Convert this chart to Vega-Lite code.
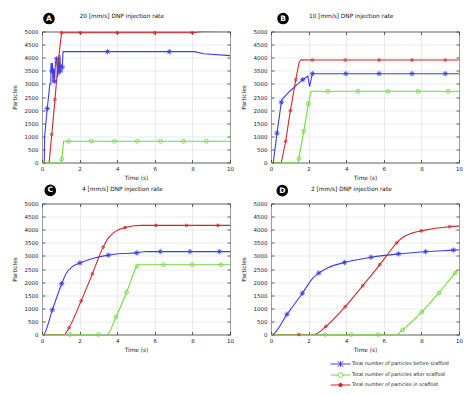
{
 "$schema": "https://vega.github.io/schema/vega-lite/v6.json",
 "padding": {"left": 11, "top": 11.5, "right": 5, "bottom": 5},
 "bounds": "flush",
 "spacing": 41,
 "columns": 2,
 "datasets": {"d": [
  {"p":"A","s":"b","t":0,"v":0,"m":0},{"p":"A","s":"b","t":0.12,"v":0,"m":0},{"p":"A","s":"b","t":0.14,"v":1000,"m":0},{"p":"A","s":"b","t":0.28,"v":2060,"m":1},{"p":"A","s":"b","t":0.42,"v":3000,"m":0},{"p":"A","s":"b","t":0.47,"v":3000,"m":0},{"p":"A","s":"b","t":0.48,"v":3800,"m":0},{"p":"A","s":"b","t":0.52,"v":3490,"m":1},{"p":"A","s":"b","t":0.55,"v":3800,"m":0},{"p":"A","s":"b","t":0.58,"v":3050,"m":0},{"p":"A","s":"b","t":0.62,"v":3600,"m":0},{"p":"A","s":"b","t":0.67,"v":3100,"m":1},{"p":"A","s":"b","t":0.71,"v":3800,"m":0},{"p":"A","s":"b","t":0.78,"v":3960,"m":1},{"p":"A","s":"b","t":0.83,"v":3250,"m":0},{"p":"A","s":"b","t":0.87,"v":3900,"m":0},{"p":"A","s":"b","t":0.91,"v":3350,"m":0},{"p":"A","s":"b","t":0.95,"v":4100,"m":0},{"p":"A","s":"b","t":0.99,"v":3490,"m":1},{"p":"A","s":"b","t":1.03,"v":3700,"m":0},{"p":"A","s":"b","t":1.08,"v":3640,"m":1},{"p":"A","s":"b","t":1.12,"v":4230,"m":0},{"p":"A","s":"b","t":3.48,"v":4230,"m":1},{"p":"A","s":"b","t":6.77,"v":4230,"m":1},{"p":"A","s":"b","t":8.1,"v":4230,"m":0},{"p":"A","s":"b","t":8.6,"v":4150,"m":0},{"p":"A","s":"b","t":10,"v":4080,"m":0},
  {"p":"A","s":"i","t":0,"v":0,"m":0},{"p":"A","s":"i","t":0.38,"v":0,"m":0},{"p":"A","s":"i","t":0.52,"v":1070,"m":1},{"p":"A","s":"i","t":0.69,"v":2400,"m":1},{"p":"A","s":"i","t":0.85,"v":3770,"m":1},{"p":"A","s":"i","t":1.04,"v":4950,"m":1},{"p":"A","s":"i","t":2.04,"v":4950,"m":1},{"p":"A","s":"i","t":4.0,"v":4950,"m":1},{"p":"A","s":"i","t":6.0,"v":4950,"m":1},{"p":"A","s":"i","t":8.0,"v":4950,"m":1},{"p":"A","s":"i","t":8.6,"v":5010,"m":0},{"p":"A","s":"i","t":10,"v":5040,"m":0},
  {"p":"A","s":"a","t":0,"v":0,"m":0},{"p":"A","s":"a","t":1.0,"v":0,"m":0},{"p":"A","s":"a","t":1.05,"v":130,"m":1},{"p":"A","s":"a","t":1.15,"v":810,"m":0},{"p":"A","s":"a","t":1.42,"v":810,"m":1},{"p":"A","s":"a","t":2.62,"v":810,"m":1},{"p":"A","s":"a","t":3.85,"v":810,"m":1},{"p":"A","s":"a","t":5.07,"v":810,"m":1},{"p":"A","s":"a","t":6.3,"v":810,"m":1},{"p":"A","s":"a","t":7.52,"v":810,"m":1},{"p":"A","s":"a","t":8.75,"v":810,"m":1},{"p":"A","s":"a","t":10,"v":810,"m":0},
  {"p":"B","s":"b","t":0,"v":0,"m":0},{"p":"B","s":"b","t":0.12,"v":0,"m":0},{"p":"B","s":"b","t":0.32,"v":1120,"m":1},{"p":"B","s":"b","t":0.55,"v":2300,"m":1},{"p":"B","s":"b","t":0.6,"v":2420,"m":0},{"p":"B","s":"b","t":1.0,"v":2720,"m":0},{"p":"B","s":"b","t":1.4,"v":2980,"m":0},{"p":"B","s":"b","t":1.69,"v":3160,"m":1},{"p":"B","s":"b","t":1.96,"v":3300,"m":0},{"p":"B","s":"b","t":2.05,"v":2900,"m":0},{"p":"B","s":"b","t":2.2,"v":3390,"m":1},{"p":"B","s":"b","t":3.98,"v":3390,"m":1},{"p":"B","s":"b","t":5.75,"v":3390,"m":1},{"p":"B","s":"b","t":7.5,"v":3390,"m":1},{"p":"B","s":"b","t":9.27,"v":3390,"m":1},{"p":"B","s":"b","t":10,"v":3390,"m":0},
  {"p":"B","s":"i","t":0,"v":0,"m":0},{"p":"B","s":"i","t":0.55,"v":0,"m":0},{"p":"B","s":"i","t":0.78,"v":810,"m":1},{"p":"B","s":"i","t":1.03,"v":1980,"m":1},{"p":"B","s":"i","t":1.32,"v":3160,"m":1},{"p":"B","s":"i","t":1.5,"v":3840,"m":0},{"p":"B","s":"i","t":1.6,"v":3920,"m":0},{"p":"B","s":"i","t":2.2,"v":3910,"m":1},{"p":"B","s":"i","t":3.95,"v":3910,"m":1},{"p":"B","s":"i","t":5.75,"v":3910,"m":1},{"p":"B","s":"i","t":7.5,"v":3910,"m":1},{"p":"B","s":"i","t":9.27,"v":3910,"m":1},{"p":"B","s":"i","t":10,"v":3910,"m":0},
  {"p":"B","s":"a","t":0,"v":0,"m":0},{"p":"B","s":"a","t":1.45,"v":0,"m":0},{"p":"B","s":"a","t":1.48,"v":150,"m":1},{"p":"B","s":"a","t":1.74,"v":1190,"m":1},{"p":"B","s":"a","t":1.99,"v":2235,"m":1},{"p":"B","s":"a","t":2.13,"v":2720,"m":0},{"p":"B","s":"a","t":3.03,"v":2720,"m":1},{"p":"B","s":"a","t":4.63,"v":2720,"m":1},{"p":"B","s":"a","t":6.23,"v":2720,"m":1},{"p":"B","s":"a","t":7.82,"v":2720,"m":1},{"p":"B","s":"a","t":9.42,"v":2720,"m":1},{"p":"B","s":"a","t":10,"v":2720,"m":0},
  {"p":"C","s":"b","t":0,"v":0,"m":0},{"p":"C","s":"b","t":0.07,"v":0,"m":0},{"p":"C","s":"b","t":0.55,"v":940,"m":1},{"p":"C","s":"b","t":1.05,"v":1940,"m":1},{"p":"C","s":"b","t":1.3,"v":2350,"m":0},{"p":"C","s":"b","t":1.6,"v":2580,"m":0},{"p":"C","s":"b","t":2.02,"v":2730,"m":1},{"p":"C","s":"b","t":2.7,"v":2900,"m":0},{"p":"C","s":"b","t":3.53,"v":3030,"m":1},{"p":"C","s":"b","t":4.3,"v":3090,"m":0},{"p":"C","s":"b","t":5.04,"v":3115,"m":1},{"p":"C","s":"b","t":5.4,"v":3160,"m":0},{"p":"C","s":"b","t":6.29,"v":3165,"m":1},{"p":"C","s":"b","t":7.87,"v":3165,"m":1},{"p":"C","s":"b","t":9.43,"v":3165,"m":1},{"p":"C","s":"b","t":10,"v":3165,"m":0},
  {"p":"C","s":"i","t":0,"v":0,"m":0},{"p":"C","s":"i","t":1.2,"v":0,"m":0},{"p":"C","s":"i","t":1.3,"v":90,"m":0},{"p":"C","s":"i","t":1.44,"v":255,"m":1},{"p":"C","s":"i","t":2.08,"v":1280,"m":1},{"p":"C","s":"i","t":2.68,"v":2315,"m":1},{"p":"C","s":"i","t":3.25,"v":3335,"m":1},{"p":"C","s":"i","t":3.5,"v":3650,"m":0},{"p":"C","s":"i","t":3.8,"v":3880,"m":0},{"p":"C","s":"i","t":4.1,"v":4010,"m":0},{"p":"C","s":"i","t":4.42,"v":4080,"m":1},{"p":"C","s":"i","t":4.9,"v":4150,"m":0},{"p":"C","s":"i","t":5.3,"v":4165,"m":0},{"p":"C","s":"i","t":6.06,"v":4165,"m":1},{"p":"C","s":"i","t":7.69,"v":4165,"m":1},{"p":"C","s":"i","t":9.36,"v":4165,"m":1},{"p":"C","s":"i","t":10,"v":4165,"m":0},
  {"p":"C","s":"a","t":0,"v":0,"m":0},{"p":"C","s":"a","t":1.49,"v":0,"m":1},{"p":"C","s":"a","t":3.0,"v":0,"m":1},{"p":"C","s":"a","t":3.45,"v":0,"m":0},{"p":"C","s":"a","t":3.94,"v":670,"m":1},{"p":"C","s":"a","t":4.5,"v":1610,"m":1},{"p":"C","s":"a","t":5.04,"v":2600,"m":1},{"p":"C","s":"a","t":5.1,"v":2665,"m":0},{"p":"C","s":"a","t":6.46,"v":2665,"m":1},{"p":"C","s":"a","t":7.98,"v":2665,"m":1},{"p":"C","s":"a","t":9.52,"v":2665,"m":1},{"p":"C","s":"a","t":10,"v":2665,"m":0},
  {"p":"D","s":"b","t":0,"v":0,"m":0},{"p":"D","s":"b","t":0.05,"v":0,"m":0},{"p":"D","s":"b","t":0.85,"v":770,"m":1},{"p":"D","s":"b","t":1.67,"v":1575,"m":1},{"p":"D","s":"b","t":2.25,"v":2170,"m":0},{"p":"D","s":"b","t":2.54,"v":2345,"m":1},{"p":"D","s":"b","t":3.0,"v":2540,"m":0},{"p":"D","s":"b","t":3.91,"v":2750,"m":1},{"p":"D","s":"b","t":5.32,"v":2950,"m":1},{"p":"D","s":"b","t":6.78,"v":3077,"m":1},{"p":"D","s":"b","t":8.22,"v":3160,"m":1},{"p":"D","s":"b","t":9.7,"v":3222,"m":1},{"p":"D","s":"b","t":10,"v":3235,"m":0},
  {"p":"D","s":"i","t":0,"v":0,"m":0},{"p":"D","s":"i","t":1.48,"v":0,"m":1},{"p":"D","s":"i","t":2.3,"v":0,"m":0},{"p":"D","s":"i","t":2.92,"v":305,"m":1},{"p":"D","s":"i","t":3.95,"v":1060,"m":1},{"p":"D","s":"i","t":4.88,"v":1865,"m":1},{"p":"D","s":"i","t":5.78,"v":2660,"m":1},{"p":"D","s":"i","t":6.3,"v":3150,"m":0},{"p":"D","s":"i","t":6.69,"v":3500,"m":1},{"p":"D","s":"i","t":7.1,"v":3750,"m":0},{"p":"D","s":"i","t":7.5,"v":3870,"m":0},{"p":"D","s":"i","t":7.99,"v":3955,"m":1},{"p":"D","s":"i","t":9.5,"v":4115,"m":1},{"p":"D","s":"i","t":10,"v":4135,"m":0},
  {"p":"D","s":"a","t":0,"v":0,"m":0},{"p":"D","s":"a","t":2.88,"v":0,"m":1},{"p":"D","s":"a","t":4.27,"v":0,"m":1},{"p":"D","s":"a","t":5.7,"v":0,"m":1},{"p":"D","s":"a","t":6.7,"v":0,"m":0},{"p":"D","s":"a","t":7.0,"v":177,"m":1},{"p":"D","s":"a","t":8.02,"v":857,"m":1},{"p":"D","s":"a","t":8.93,"v":1590,"m":1},{"p":"D","s":"a","t":9.8,"v":2345,"m":1},{"p":"D","s":"a","t":9.97,"v":2480,"m":0}
 ]},
 "concat": [
  {"width": 188, "height": 131,
   "resolve": {"axis": {"x": "independent", "y": "independent"}},
   "layer": [
    {"data": {"name": "d"}, "transform": [{"filter": "datum.p==='A'"}],
     "mark": {"type": "line", "clip": true, "strokeWidth": 1.1},
     "encoding": {
      "x": {"field": "t", "type": "quantitative", "scale": {"domain": [0, 10], "nice": false}, "axis": {"values": [0,2,4,6,8,10], "format": "d", "title": "Time (s)"}},
      "y": {"field": "v", "type": "quantitative", "scale": {"domain": [0, 5000], "nice": false}, "axis": {"values": [0,500,1000,1500,2000,2500,3000,3500,4000,4500,5000], "format": "d", "title": "Particles"}},
      "color": {"field": "s", "type": "nominal", "scale": {"domain": ["b","a","i"], "range": ["#3c3ce6","#6fdc3c","#d0262b"]},
       "legend": {"labelExpr": "datum.value==='b' ? 'Total number of particles before scaffold' : datum.value==='a' ? 'Total number of particles after scaffold' : 'Total number of particles in scaffold'",
        "encode": {"symbols": {"update": {
         "shape": {"signal": "datum.value==='b' ? 'M-3.3,0H3.3M-0.9,-0.9L0.9,0.9M-0.9,0.9L0.9,-0.9M0,-0.9V0.9' : datum.value==='a' ? 'M-3.3,0H-0.78A0.78,0.78 0 1 1 0.78,0A0.78,0.78 0 1 1 -0.78,0M0.78,0H3.3' : 'M-3.3,0H3.3M-0.57,0A0.57,0.57 0 1 1 0.57,0A0.57,0.57 0 1 1 -0.57,0'"},
         "fill": {"signal": "datum.value==='i' ? '#d0262b' : 'transparent'"},
         "strokeWidth": {"value": 1}}}}}}
     }},
    {"data": {"name": "d"}, "transform": [{"filter": "datum.p==='A' && datum.m===1 && datum.s==='b'"}],
     "mark": {"type": "point", "filled": false, "strokeWidth": 0.9, "opacity": 1, "color": "#3c3ce6", "size": 28, "shape": "M-1,0H1M0,-1V1M-0.7,-0.7L0.7,0.7M-0.7,0.7L0.7,-0.7"},
     "encoding": {
      "x": {"field": "t", "type": "quantitative", "scale": {"domain": [0, 10], "nice": false}, "axis": {"orient": "top", "values": [0,2,4,6,8,10], "labels": false, "title": null, "grid": false}},
      "y": {"field": "v", "type": "quantitative", "scale": {"domain": [0, 5000], "nice": false}, "axis": {"orient": "right", "values": [0,500,1000,1500,2000,2500,3000,3500,4000,4500,5000], "labels": false, "title": null, "grid": false}}
     }},
    {"data": {"name": "d"}, "transform": [{"filter": "datum.p==='A' && datum.m===1 && datum.s==='a'"}],
     "mark": {"type": "point", "filled": false, "strokeWidth": 0.9, "opacity": 1, "color": "#6fdc3c", "size": 14, "shape": "circle"},
     "encoding": {
      "x": {"field": "t", "type": "quantitative", "scale": {"domain": [0, 10], "nice": false}, "axis": null},
      "y": {"field": "v", "type": "quantitative", "scale": {"domain": [0, 5000], "nice": false}, "axis": null}
     }},
    {"data": {"name": "d"}, "transform": [{"filter": "datum.p==='A' && datum.m===1 && datum.s==='i'"}],
     "mark": {"type": "point", "filled": false, "strokeWidth": 0.9, "opacity": 1, "color": "#d0262b", "size": 7, "shape": "circle"},
     "encoding": {
      "x": {"field": "t", "type": "quantitative", "scale": {"domain": [0, 10], "nice": false}, "axis": null},
      "y": {"field": "v", "type": "quantitative", "scale": {"domain": [0, 5000], "nice": false}, "axis": null}
     }},
    {"data": {"values": [{}]}, "mark": {"type": "point", "filled": true, "color": "#000", "size": 135, "opacity": 1},
     "encoding": {"x": {"datum": 0.37, "type": "quantitative", "scale": {"domain": [0, 10], "nice": false}, "axis": null}, "y": {"datum": 5495, "type": "quantitative", "scale": {"domain": [0, 5000], "nice": false}, "axis": null}}},
    {"data": {"values": [{}]}, "mark": {"type": "text", "text": "A", "color": "#fff", "fontWeight": "bold", "fontSize": 7.5, "align": "center", "baseline": "middle"},
     "encoding": {"x": {"datum": 0.37, "type": "quantitative", "scale": {"domain": [0, 10], "nice": false}, "axis": null}, "y": {"datum": 5495, "type": "quantitative", "scale": {"domain": [0, 5000], "nice": false}, "axis": null}}},
    {"data": {"values": [{}]}, "mark": {"type": "text", "text": "20 [mm/s] DNP injection rate", "color": "#111", "fontSize": 5.8, "align": "left", "baseline": "middle"},
     "encoding": {"x": {"datum": 2.0, "type": "quantitative", "scale": {"domain": [0, 10], "nice": false}, "axis": null}, "y": {"datum": 5573, "type": "quantitative", "scale": {"domain": [0, 5000], "nice": false}, "axis": null}}}
   ]},
  {"width": 188, "height": 131,
   "resolve": {"axis": {"x": "independent", "y": "independent"}},
   "layer": [
    {"data": {"name": "d"}, "transform": [{"filter": "datum.p==='B'"}],
     "mark": {"type": "line", "clip": true, "strokeWidth": 1.1},
     "encoding": {
      "x": {"field": "t", "type": "quantitative", "scale": {"domain": [0, 10], "nice": false}, "axis": {"values": [0,2,4,6,8,10], "format": "d", "title": "Time (s)"}},
      "y": {"field": "v", "type": "quantitative", "scale": {"domain": [0, 5000], "nice": false}, "axis": {"values": [0,500,1000,1500,2000,2500,3000,3500,4000,4500,5000], "format": "d", "title": "Particles"}},
      "color": {"field": "s", "type": "nominal", "scale": {"domain": ["b","a","i"], "range": ["#3c3ce6","#6fdc3c","#d0262b"]}, "legend": null}
     }},
    {"data": {"name": "d"}, "transform": [{"filter": "datum.p==='B' && datum.m===1 && datum.s==='b'"}],
     "mark": {"type": "point", "filled": false, "strokeWidth": 0.9, "opacity": 1, "color": "#3c3ce6", "size": 28, "shape": "M-1,0H1M0,-1V1M-0.7,-0.7L0.7,0.7M-0.7,0.7L0.7,-0.7"},
     "encoding": {
      "x": {"field": "t", "type": "quantitative", "scale": {"domain": [0, 10], "nice": false}, "axis": {"orient": "top", "values": [0,2,4,6,8,10], "labels": false, "title": null, "grid": false}},
      "y": {"field": "v", "type": "quantitative", "scale": {"domain": [0, 5000], "nice": false}, "axis": {"orient": "right", "values": [0,500,1000,1500,2000,2500,3000,3500,4000,4500,5000], "labels": false, "title": null, "grid": false}}
     }},
    {"data": {"name": "d"}, "transform": [{"filter": "datum.p==='B' && datum.m===1 && datum.s==='a'"}],
     "mark": {"type": "point", "filled": false, "strokeWidth": 0.9, "opacity": 1, "color": "#6fdc3c", "size": 14, "shape": "circle"},
     "encoding": {
      "x": {"field": "t", "type": "quantitative", "scale": {"domain": [0, 10], "nice": false}, "axis": null},
      "y": {"field": "v", "type": "quantitative", "scale": {"domain": [0, 5000], "nice": false}, "axis": null}
     }},
    {"data": {"name": "d"}, "transform": [{"filter": "datum.p==='B' && datum.m===1 && datum.s==='i'"}],
     "mark": {"type": "point", "filled": false, "strokeWidth": 0.9, "opacity": 1, "color": "#d0262b", "size": 7, "shape": "circle"},
     "encoding": {
      "x": {"field": "t", "type": "quantitative", "scale": {"domain": [0, 10], "nice": false}, "axis": null},
      "y": {"field": "v", "type": "quantitative", "scale": {"domain": [0, 5000], "nice": false}, "axis": null}
     }},
    {"data": {"values": [{}]}, "mark": {"type": "point", "filled": true, "color": "#000", "size": 135, "opacity": 1},
     "encoding": {"x": {"datum": 0.64, "type": "quantitative", "scale": {"domain": [0, 10], "nice": false}, "axis": null}, "y": {"datum": 5495, "type": "quantitative", "scale": {"domain": [0, 5000], "nice": false}, "axis": null}}},
    {"data": {"values": [{}]}, "mark": {"type": "text", "text": "B", "color": "#fff", "fontWeight": "bold", "fontSize": 7.5, "align": "center", "baseline": "middle"},
     "encoding": {"x": {"datum": 0.64, "type": "quantitative", "scale": {"domain": [0, 10], "nice": false}, "axis": null}, "y": {"datum": 5495, "type": "quantitative", "scale": {"domain": [0, 5000], "nice": false}, "axis": null}}},
    {"data": {"values": [{}]}, "mark": {"type": "text", "text": "10 [mm/s] DNP injection rate", "color": "#111", "fontSize": 5.8, "align": "left", "baseline": "middle"},
     "encoding": {"x": {"datum": 2.02, "type": "quantitative", "scale": {"domain": [0, 10], "nice": false}, "axis": null}, "y": {"datum": 5573, "type": "quantitative", "scale": {"domain": [0, 5000], "nice": false}, "axis": null}}}
   ]},
  {"width": 188, "height": 131,
   "resolve": {"axis": {"x": "independent", "y": "independent"}},
   "layer": [
    {"data": {"name": "d"}, "transform": [{"filter": "datum.p==='C'"}],
     "mark": {"type": "line", "clip": true, "strokeWidth": 1.1, "interpolate": "monotone"},
     "encoding": {
      "x": {"field": "t", "type": "quantitative", "scale": {"domain": [0, 10], "nice": false}, "axis": {"values": [0,2,4,6,8,10], "format": "d", "title": "Time (s)"}},
      "y": {"field": "v", "type": "quantitative", "scale": {"domain": [0, 5000], "nice": false}, "axis": {"values": [0,500,1000,1500,2000,2500,3000,3500,4000,4500,5000], "format": "d", "title": "Particles"}},
      "color": {"field": "s", "type": "nominal", "scale": {"domain": ["b","a","i"], "range": ["#3c3ce6","#6fdc3c","#d0262b"]}, "legend": null}
     }},
    {"data": {"name": "d"}, "transform": [{"filter": "datum.p==='C' && datum.m===1 && datum.s==='b'"}],
     "mark": {"type": "point", "filled": false, "strokeWidth": 0.9, "opacity": 1, "color": "#3c3ce6", "size": 28, "shape": "M-1,0H1M0,-1V1M-0.7,-0.7L0.7,0.7M-0.7,0.7L0.7,-0.7"},
     "encoding": {
      "x": {"field": "t", "type": "quantitative", "scale": {"domain": [0, 10], "nice": false}, "axis": {"orient": "top", "values": [0,2,4,6,8,10], "labels": false, "title": null, "grid": false}},
      "y": {"field": "v", "type": "quantitative", "scale": {"domain": [0, 5000], "nice": false}, "axis": {"orient": "right", "values": [0,500,1000,1500,2000,2500,3000,3500,4000,4500,5000], "labels": false, "title": null, "grid": false}}
     }},
    {"data": {"name": "d"}, "transform": [{"filter": "datum.p==='C' && datum.m===1 && datum.s==='a'"}],
     "mark": {"type": "point", "filled": false, "strokeWidth": 0.9, "opacity": 1, "color": "#6fdc3c", "size": 14, "shape": "circle"},
     "encoding": {
      "x": {"field": "t", "type": "quantitative", "scale": {"domain": [0, 10], "nice": false}, "axis": null},
      "y": {"field": "v", "type": "quantitative", "scale": {"domain": [0, 5000], "nice": false}, "axis": null}
     }},
    {"data": {"name": "d"}, "transform": [{"filter": "datum.p==='C' && datum.m===1 && datum.s==='i'"}],
     "mark": {"type": "point", "filled": false, "strokeWidth": 0.9, "opacity": 1, "color": "#d0262b", "size": 7, "shape": "circle"},
     "encoding": {
      "x": {"field": "t", "type": "quantitative", "scale": {"domain": [0, 10], "nice": false}, "axis": null},
      "y": {"field": "v", "type": "quantitative", "scale": {"domain": [0, 5000], "nice": false}, "axis": null}
     }},
    {"data": {"values": [{}]}, "mark": {"type": "point", "filled": true, "color": "#000", "size": 135, "opacity": 1},
     "encoding": {"x": {"datum": 0.44, "type": "quantitative", "scale": {"domain": [0, 10], "nice": false}, "axis": null}, "y": {"datum": 5500, "type": "quantitative", "scale": {"domain": [0, 5000], "nice": false}, "axis": null}}},
    {"data": {"values": [{}]}, "mark": {"type": "text", "text": "C", "color": "#fff", "fontWeight": "bold", "fontSize": 7.5, "align": "center", "baseline": "middle"},
     "encoding": {"x": {"datum": 0.44, "type": "quantitative", "scale": {"domain": [0, 10], "nice": false}, "axis": null}, "y": {"datum": 5500, "type": "quantitative", "scale": {"domain": [0, 5000], "nice": false}, "axis": null}}},
    {"data": {"values": [{}]}, "mark": {"type": "text", "text": "4 [mm/s] DNP injection rate", "color": "#111", "fontSize": 5.8, "align": "left", "baseline": "middle"},
     "encoding": {"x": {"datum": 2.13, "type": "quantitative", "scale": {"domain": [0, 10], "nice": false}, "axis": null}, "y": {"datum": 5540, "type": "quantitative", "scale": {"domain": [0, 5000], "nice": false}, "axis": null}}}
   ]},
  {"width": 188, "height": 131,
   "resolve": {"axis": {"x": "independent", "y": "independent"}},
   "layer": [
    {"data": {"name": "d"}, "transform": [{"filter": "datum.p==='D'"}],
     "mark": {"type": "line", "clip": true, "strokeWidth": 1.1, "interpolate": "monotone"},
     "encoding": {
      "x": {"field": "t", "type": "quantitative", "scale": {"domain": [0, 10], "nice": false}, "axis": {"values": [0,2,4,6,8,10], "format": "d", "title": "Time (s)"}},
      "y": {"field": "v", "type": "quantitative", "scale": {"domain": [0, 5000], "nice": false}, "axis": {"values": [0,500,1000,1500,2000,2500,3000,3500,4000,4500,5000], "format": "d", "title": "Particles"}},
      "color": {"field": "s", "type": "nominal", "scale": {"domain": ["b","a","i"], "range": ["#3c3ce6","#6fdc3c","#d0262b"]}, "legend": null}
     }},
    {"data": {"name": "d"}, "transform": [{"filter": "datum.p==='D' && datum.m===1 && datum.s==='b'"}],
     "mark": {"type": "point", "filled": false, "strokeWidth": 0.9, "opacity": 1, "color": "#3c3ce6", "size": 28, "shape": "M-1,0H1M0,-1V1M-0.7,-0.7L0.7,0.7M-0.7,0.7L0.7,-0.7"},
     "encoding": {
      "x": {"field": "t", "type": "quantitative", "scale": {"domain": [0, 10], "nice": false}, "axis": {"orient": "top", "values": [0,2,4,6,8,10], "labels": false, "title": null, "grid": false}},
      "y": {"field": "v", "type": "quantitative", "scale": {"domain": [0, 5000], "nice": false}, "axis": {"orient": "right", "values": [0,500,1000,1500,2000,2500,3000,3500,4000,4500,5000], "labels": false, "title": null, "grid": false}}
     }},
    {"data": {"name": "d"}, "transform": [{"filter": "datum.p==='D' && datum.m===1 && datum.s==='a'"}],
     "mark": {"type": "point", "filled": false, "strokeWidth": 0.9, "opacity": 1, "color": "#6fdc3c", "size": 14, "shape": "circle"},
     "encoding": {
      "x": {"field": "t", "type": "quantitative", "scale": {"domain": [0, 10], "nice": false}, "axis": null},
      "y": {"field": "v", "type": "quantitative", "scale": {"domain": [0, 5000], "nice": false}, "axis": null}
     }},
    {"data": {"name": "d"}, "transform": [{"filter": "datum.p==='D' && datum.m===1 && datum.s==='i'"}],
     "mark": {"type": "point", "filled": false, "strokeWidth": 0.9, "opacity": 1, "color": "#d0262b", "size": 7, "shape": "circle"},
     "encoding": {
      "x": {"field": "t", "type": "quantitative", "scale": {"domain": [0, 10], "nice": false}, "axis": null},
      "y": {"field": "v", "type": "quantitative", "scale": {"domain": [0, 5000], "nice": false}, "axis": null}
     }},
    {"data": {"values": [{}]}, "mark": {"type": "point", "filled": true, "color": "#000", "size": 135, "opacity": 1},
     "encoding": {"x": {"datum": 0.6, "type": "quantitative", "scale": {"domain": [0, 10], "nice": false}, "axis": null}, "y": {"datum": 5490, "type": "quantitative", "scale": {"domain": [0, 5000], "nice": false}, "axis": null}}},
    {"data": {"values": [{}]}, "mark": {"type": "text", "text": "D", "color": "#fff", "fontWeight": "bold", "fontSize": 7.5, "align": "center", "baseline": "middle"},
     "encoding": {"x": {"datum": 0.6, "type": "quantitative", "scale": {"domain": [0, 10], "nice": false}, "axis": null}, "y": {"datum": 5490, "type": "quantitative", "scale": {"domain": [0, 5000], "nice": false}, "axis": null}}},
    {"data": {"values": [{}]}, "mark": {"type": "text", "text": "2 [mm/s] DNP injection rate", "color": "#111", "fontSize": 5.8, "align": "left", "baseline": "middle"},
     "encoding": {"x": {"datum": 2.13, "type": "quantitative", "scale": {"domain": [0, 10], "nice": false}, "axis": null}, "y": {"datum": 5540, "type": "quantitative", "scale": {"domain": [0, 5000], "nice": false}, "axis": null}}}
   ]}
 ],
 "config": {
  "font": "DejaVu Sans",
  "view": {"stroke": "#3a3a3a", "strokeWidth": 1},
  "axis": {"domain": false, "gridColor": "#dddddd", "gridWidth": 0.6, "tickColor": "#3a3a3a", "tickSize": -3, "tickWidth": 0.8, "labelFont": "DejaVu Sans", "labelFontSize": 5.5, "labelColor": "#1a1a1a", "labelPadding": 7, "labelFlush": false, "titleFont": "DejaVu Sans", "titleFontSize": 5.8, "titleFontWeight": "normal", "titleColor": "#1a1a1a"},
  "axisY": {"titlePadding": 6.5},
  "axisX": {"titlePadding": 2},
  "legend": {"orient": "none", "legendX": 295, "legendY": 329, "direction": "vertical", "title": null, "padding": 0, "labelFont": "DejaVu Sans", "labelFontSize": 4.8, "labelColor": "#1a1a1a", "symbolSize": 36, "symbolStrokeWidth": 1, "labelOffset": 8, "rowPadding": 1}
 }
}
